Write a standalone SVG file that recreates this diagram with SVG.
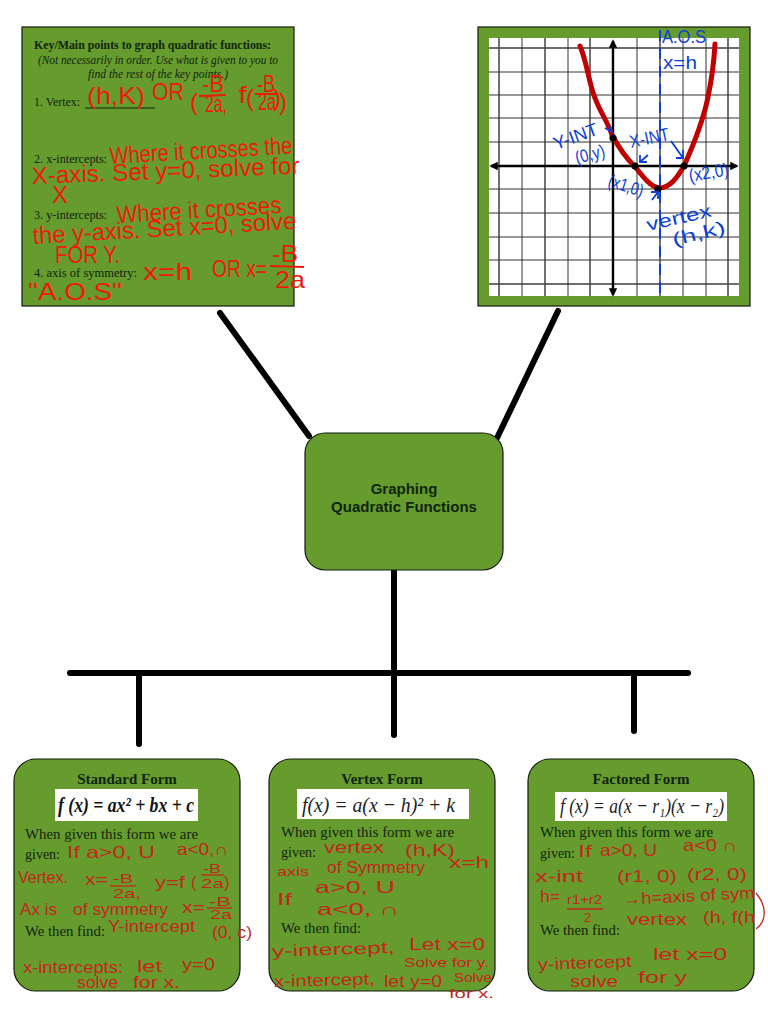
<svg xmlns="http://www.w3.org/2000/svg" width="768" height="1024" viewBox="0 0 768 1024">
<style>
.bg{fill:#669c2e;stroke:#141a0c;stroke-width:1.2}
.s{font-family:"Liberation Serif","Times New Roman",serif;fill:#10240a}
.t{font-family:"Liberation Serif","Times New Roman",serif;font-weight:bold;font-size:15px;fill:#10240a;text-anchor:middle}
.b{font-size:15px}
.k{font-size:12px}
.h{font-family:"Liberation Sans",Arial,sans-serif;fill:#ee1a0c;font-size:24px}
.r{font-family:"Liberation Sans",Arial,sans-serif;fill:#c4261a;font-size:16.5px}
.m{font-size:13px}
.u{font-family:"Liberation Sans",Arial,sans-serif;fill:#0d3fd6;font-size:18px}
.fl{stroke:#ee1a0c;stroke-width:2;fill:none}
.fr{stroke:#c4261a;stroke-width:1.3;fill:none}
.g{stroke:#333;stroke-width:1;fill:none}
.g2{stroke:#aaa;stroke-width:1.8;fill:none}
.ax{stroke:#000;stroke-width:2.4;fill:none}
.ar{stroke:#0d3fd6;stroke-width:1.8;fill:none}
.c{stroke:#000;stroke-width:6;stroke-linecap:round;fill:none}
.f{font-family:"Liberation Serif","DejaVu Serif",serif;font-size:22px;fill:#222;font-style:italic}
.fb{font-weight:bold;fill:#111}
</style>
<defs>
<marker id="ah" viewBox="0 0 10 10" refX="8" refY="5" markerWidth="3.5" markerHeight="4" orient="auto-start-reverse"><path d="M0 0L10 5L0 10z" fill="#000"/></marker>
</defs>
<rect width="768" height="1024" fill="#fff"/>

<g id="connectors">
<path class="c" d="M220 313L309 436"/>
<path class="c" d="M558 311L497 438"/>
<path class="c" d="M394 571V735"/>
<path class="c" d="M70 673H688"/>
<path class="c" d="M139 673V744"/>
<path class="c" d="M634 676V731"/>
</g>

<g id="n-key">
<rect class="bg" x="22" y="27" width="272" height="279"/>
<text class="s k" x="34" y="49" font-weight="bold" textLength="237" lengthAdjust="spacingAndGlyphs">Key/Main points to graph quadratic functions:</text>
<text class="s k" x="38" y="64" font-style="italic" textLength="240" lengthAdjust="spacingAndGlyphs">(Not necessarily in order. Use what is given to you to</text>
<text class="s k" x="88" y="78" font-style="italic" textLength="140" lengthAdjust="spacingAndGlyphs">find the rest of the key points.)</text>
<text class="s k" x="34" y="106" textLength="46" lengthAdjust="spacingAndGlyphs">1. Vertex:</text>
<path d="M85 108H155" stroke="#10240a" stroke-width="1"/>
<text class="s k" x="34" y="163" textLength="73" lengthAdjust="spacingAndGlyphs">2. x-intercepts:</text>
<text class="s k" x="34" y="219" textLength="73" lengthAdjust="spacingAndGlyphs">3. y-intercepts:</text>
<text class="s k" x="34" y="277" textLength="103" lengthAdjust="spacingAndGlyphs">4. axis of symmetry:</text>
<text class="h" x="87" y="104" font-size="34" textLength="58" lengthAdjust="spacingAndGlyphs">(h,K)</text>
<text class="h" x="152" y="100" textLength="32" lengthAdjust="spacingAndGlyphs">OR</text>
<text class="h" x="190" y="110" font-size="42">(</text>
<text class="h" x="202" y="92" font-size="20" textLength="22" lengthAdjust="spacingAndGlyphs">-B</text>
<path class="fl" d="M199 96L226 95"/>
<text class="h" x="205" y="112" font-size="17" textLength="22" lengthAdjust="spacingAndGlyphs">2a,</text>
<text class="h" x="238" y="103" textLength="9" lengthAdjust="spacingAndGlyphs">f</text>
<text class="h" x="246" y="106" font-size="34">(</text>
<text class="h" x="257" y="92" font-size="17" textLength="18" lengthAdjust="spacingAndGlyphs">-B</text>
<path class="fl" d="M255 94L278 94"/>
<text class="h" x="258" y="110" font-size="15" textLength="18" lengthAdjust="spacingAndGlyphs">2a</text>
<text class="h" x="273" y="106" font-size="34">)</text>
<text class="h" x="279" y="110" font-size="44">)</text>
<text class="h" x="110" y="164" transform="rotate(-3.3 110 164)" textLength="183" lengthAdjust="spacingAndGlyphs">Where it crosses the</text>
<text class="h" x="32" y="184" transform="rotate(-2.2 32 184)" textLength="268" lengthAdjust="spacingAndGlyphs">X-axis. Set y=0, solve for</text>
<text class="h" x="52" y="203" font-size="19">X</text>
<text class="h" x="117" y="223" transform="rotate(-3.5 117 223)" textLength="165" lengthAdjust="spacingAndGlyphs">Where it crosses</text>
<text class="h" x="33" y="244" transform="rotate(-3.3 33 244)" textLength="264" lengthAdjust="spacingAndGlyphs">the y-axis. Set x=0, solve</text>
<text class="h" x="55" y="263" font-size="19" textLength="65" lengthAdjust="spacingAndGlyphs">FOR Y.</text>
<text class="h" x="143" y="280" font-size="28" textLength="49" lengthAdjust="spacingAndGlyphs">x=h</text>
<text class="h" x="212" y="277" textLength="55" lengthAdjust="spacingAndGlyphs">OR x=</text>
<text class="h" x="272" y="262" font-size="22" textLength="26" lengthAdjust="spacingAndGlyphs">-B</text>
<path class="fl" d="M270 266L304 267"/>
<text class="h" x="275" y="288" font-size="22" textLength="30" lengthAdjust="spacingAndGlyphs">2a</text>
<text class="h" x="28" y="300" font-size="27" textLength="94" lengthAdjust="spacingAndGlyphs">"A.O.S"</text>
</g>

<g id="n-graph">
<rect class="bg" x="478" y="27" width="272" height="279"/>
<rect x="489" y="38" width="250" height="258" fill="#fff"/>
<path class="g2" d="M499 38V296M545 38V296M590 38V296M660 38V296M728 38V296M489 48H739M489 284H739"/>
<path class="g" d="M499 38V296M522 38V296M545 38V296M568 38V296M590 38V296M637 38V296M660 38V296M683 38V296M706 38V296M728 38V296M489 48H739M489 72H739M489 95H739M489 118H739M489 142H739M489 189H739M489 213H739M489 237H739M489 260H739M489 284H739"/>
<path class="ax" d="M613 41V295" marker-start="url(#ah)" marker-end="url(#ah)"/>
<path class="ax" d="M491 166H737" marker-start="url(#ah)" marker-end="url(#ah)"/>
<path d="M580 46C587 62 589 84 595 98C600 112 608 122 612 135C620 150 628 160 636 168C644 178 651 187 659 188C670 188 677 178 684 166C693 146 703 122 708 97C712 78 714 62 715 44" fill="none" stroke="#c00000" stroke-width="5" stroke-linecap="round"/>
<circle cx="613" cy="138" r="3.6"/><circle cx="635" cy="166" r="3.6"/><circle cx="658" cy="189" r="3.6"/><circle cx="684" cy="166" r="3.6"/>
<path d="M660 30V295" stroke="#0d3fd6" stroke-width="2" stroke-dasharray="11 7" fill="none"/>
<text class="u" x="662" y="43" font-size="19" textLength="44" lengthAdjust="spacingAndGlyphs">A.O.S</text>
<text class="u" x="663" y="69" font-size="22" textLength="34" lengthAdjust="spacingAndGlyphs">x=h</text>
<text class="u" x="556" y="150" font-size="20" transform="rotate(-20 556 150)" textLength="46" lengthAdjust="spacingAndGlyphs">Y-INT</text>
<text class="u" x="577" y="164" font-size="20" transform="rotate(-15 577 164)" textLength="30" lengthAdjust="spacingAndGlyphs">(0,y)</text>
<text class="u" x="631" y="148" transform="rotate(-12 631 148)" textLength="40" lengthAdjust="spacingAndGlyphs">X-INT</text>
<text class="u" x="607" y="186" font-size="19" transform="rotate(18 607 186)" textLength="36" lengthAdjust="spacingAndGlyphs">(x1,0)</text>
<text class="u" x="690" y="182" font-size="19" transform="rotate(-10 690 182)" textLength="40" lengthAdjust="spacingAndGlyphs">(x2,0)</text>
<text class="u" x="648" y="231" font-size="24" transform="rotate(-13 648 231)" textLength="66" lengthAdjust="spacingAndGlyphs">vertex</text>
<text class="u" x="674" y="246" font-size="21" transform="rotate(-14 674 246)" textLength="54" lengthAdjust="spacingAndGlyphs">(h,k)</text>
<path class="ar" d="M605 128L612 132L609 125M648 155L640 162M640 155V162H647M671 141L683 158M683 150V158H676M652 200L658 192M651 192H658V199"/>
</g>

<g id="n-center">
<rect class="bg" x="305" y="433" width="198" height="137" rx="20"/>
<text x="404" y="494" font-family="Liberation Sans,Arial,sans-serif" font-weight="bold" font-size="15" fill="#10240a" text-anchor="middle">Graphing</text>
<text x="404" y="512" font-family="Liberation Sans,Arial,sans-serif" font-weight="bold" font-size="15" fill="#10240a" text-anchor="middle">Quadratic Functions</text>
</g>

<g id="n-standard">
<rect class="bg" x="14" y="759" width="226" height="232" rx="22"/>
<text class="t" x="127" y="784">Standard Form</text>
<rect x="55" y="789" width="143" height="32" fill="#fff"/>
<text class="f fb" x="58" y="812" textLength="136" lengthAdjust="spacingAndGlyphs">f (x) = ax² + bx + c</text>
<text class="s b" x="25" y="839" textLength="173" lengthAdjust="spacingAndGlyphs">When given this form we are</text>
<text class="s b" x="25" y="859" textLength="35" lengthAdjust="spacingAndGlyphs">given:</text>
<text class="s b" x="25" y="936" textLength="80" lengthAdjust="spacingAndGlyphs">We then find:</text>
<text class="r" x="67" y="858" textLength="88" lengthAdjust="spacingAndGlyphs">If a&gt;0, U</text>
<text class="r" x="177" y="855" textLength="51" lengthAdjust="spacingAndGlyphs">a&lt;0,∩</text>
<text class="r" x="18" y="883" textLength="50" lengthAdjust="spacingAndGlyphs">Vertex.</text>
<text class="r" x="85" y="885" textLength="23" lengthAdjust="spacingAndGlyphs">x=</text>
<text class="r m" x="113" y="883" textLength="20" lengthAdjust="spacingAndGlyphs">-B</text>
<path class="fr" d="M110 886H136"/>
<text class="r m" x="113" y="898" textLength="28" lengthAdjust="spacingAndGlyphs">2a,</text>
<text class="r" x="155" y="888" textLength="30" lengthAdjust="spacingAndGlyphs">y=f</text>
<text class="r" x="191" y="888" font-size="26">(</text>
<text class="r m" x="203" y="873" textLength="18" lengthAdjust="spacingAndGlyphs">-B</text>
<path class="fr" d="M201 875H224"/>
<text class="r m" x="201" y="888" textLength="23" lengthAdjust="spacingAndGlyphs">2a</text>
<text class="r" x="224" y="888" font-size="26">)</text>
<text class="r" x="20" y="915" textLength="37" lengthAdjust="spacingAndGlyphs">Ax is</text>
<text class="r" x="73" y="915" textLength="95" lengthAdjust="spacingAndGlyphs">of symmetry</text>
<text class="r" x="182" y="913" textLength="23" lengthAdjust="spacingAndGlyphs">x=</text>
<text class="r m" x="209" y="906" textLength="22" lengthAdjust="spacingAndGlyphs">-B</text>
<path class="fr" d="M207 908H232"/>
<text class="r m" x="210" y="919" textLength="22" lengthAdjust="spacingAndGlyphs">2a</text>
<text class="r" x="108" y="932" textLength="87" lengthAdjust="spacingAndGlyphs">Y-intercept</text>
<text class="r" x="212" y="938" textLength="40" lengthAdjust="spacingAndGlyphs">(0, c)</text>
<text class="r" x="23" y="973" textLength="100" lengthAdjust="spacingAndGlyphs">x-intercepts:</text>
<text class="r" x="137" y="972" textLength="25" lengthAdjust="spacingAndGlyphs">let</text>
<text class="r" x="182" y="970" textLength="33" lengthAdjust="spacingAndGlyphs">y=0</text>
<text class="r" x="77" y="988" textLength="41" lengthAdjust="spacingAndGlyphs">solve</text>
<text class="r" x="133" y="988" textLength="47" lengthAdjust="spacingAndGlyphs">for x.</text>
</g>

<g id="n-vertex">
<rect class="bg" x="269" y="759" width="226" height="232" rx="22"/>
<text class="t" x="382" y="784">Vertex Form</text>
<rect x="297" y="789" width="172" height="30" fill="#fff"/>
<text class="f" x="302" y="812" textLength="153" lengthAdjust="spacingAndGlyphs">f(x) = a(x − h)² + k</text>
<text class="s b" x="281" y="837" textLength="173" lengthAdjust="spacingAndGlyphs">When given this form we are</text>
<text class="s b" x="281" y="857" textLength="35" lengthAdjust="spacingAndGlyphs">given:</text>
<text class="s b" x="281" y="933" textLength="80" lengthAdjust="spacingAndGlyphs">We then find:</text>
<text class="r" x="324" y="853" textLength="60" lengthAdjust="spacingAndGlyphs">vertex</text>
<text class="r" x="405" y="856" font-size="19" textLength="50" lengthAdjust="spacingAndGlyphs">(h,K)</text>
<text class="r m" x="277" y="876" textLength="32" lengthAdjust="spacingAndGlyphs">axis</text>
<text class="r" x="327" y="873" textLength="98" lengthAdjust="spacingAndGlyphs">of Symmetry</text>
<text class="r" x="449" y="868" textLength="40" lengthAdjust="spacingAndGlyphs">x=h</text>
<text class="r" x="277" y="905" textLength="15" lengthAdjust="spacingAndGlyphs">If</text>
<text class="r" x="315" y="893" textLength="80" lengthAdjust="spacingAndGlyphs">a&gt;0, U</text>
<text class="r" x="317" y="915" textLength="82" lengthAdjust="spacingAndGlyphs">a&lt;0, ∩</text>
<text class="r" x="272" y="957" transform="rotate(-2 272 957)" font-size="18" textLength="123" lengthAdjust="spacingAndGlyphs">y-intercept,</text>
<text class="r" x="409" y="950" textLength="76" lengthAdjust="spacingAndGlyphs">Let x=0</text>
<text class="r m" x="404" y="967" font-size="15" textLength="85" lengthAdjust="spacingAndGlyphs">Solve for y.</text>
<text class="r" x="274" y="987" transform="rotate(-1.5 274 987)" textLength="101" lengthAdjust="spacingAndGlyphs">x-intercept,</text>
<text class="r" x="384" y="987" textLength="58" lengthAdjust="spacingAndGlyphs">let y=0</text>
<text class="r m" x="454" y="982" textLength="38" lengthAdjust="spacingAndGlyphs">Solve</text>
<text class="r m" x="449" y="998" textLength="45" lengthAdjust="spacingAndGlyphs">for x.</text>
</g>

<g id="n-factored">
<rect class="bg" x="528" y="759" width="226" height="232" rx="22"/>
<text class="t" x="641" y="784">Factored Form</text>
<rect x="555" y="792" width="172" height="29" fill="#fff"/>
<text class="f" x="560" y="813" textLength="164" lengthAdjust="spacingAndGlyphs">f (x) = a(x − r₁)(x − r₂)</text>
<text class="s b" x="540" y="837" textLength="173" lengthAdjust="spacingAndGlyphs">When given this form we are</text>
<text class="s b" x="540" y="858" textLength="35" lengthAdjust="spacingAndGlyphs">given:</text>
<text class="s b" x="540" y="935" textLength="80" lengthAdjust="spacingAndGlyphs">We then find:</text>
<text class="r" x="578" y="857" textLength="14" lengthAdjust="spacingAndGlyphs">If</text>
<text class="r" x="600" y="856" textLength="57" lengthAdjust="spacingAndGlyphs">a&gt;0, U</text>
<text class="r" x="683" y="851" textLength="54" lengthAdjust="spacingAndGlyphs">a&lt;0 ∩</text>
<text class="r" x="535" y="882" textLength="48" lengthAdjust="spacingAndGlyphs">x-int</text>
<text class="r" x="617" y="882" font-size="20" textLength="60" lengthAdjust="spacingAndGlyphs">(r1, 0)</text>
<text class="r" x="687" y="880" font-size="20" textLength="60" lengthAdjust="spacingAndGlyphs">(r2, 0)</text>
<text class="r" x="540" y="902" textLength="20" lengthAdjust="spacingAndGlyphs">h=</text>
<text class="r m" x="567" y="904" textLength="35" lengthAdjust="spacingAndGlyphs">r1+r2</text>
<path class="fr" d="M567 909H603"/>
<text class="r m" x="584" y="922">2</text>
<text class="r" x="623" y="905" transform="rotate(-3 623 905)" font-size="17" textLength="132" lengthAdjust="spacingAndGlyphs">→h=axis of sym</text>
<text class="r" x="627" y="925" font-size="20" textLength="60" lengthAdjust="spacingAndGlyphs">vertex</text>
<text class="r" x="703" y="923" font-size="20" textLength="52" lengthAdjust="spacingAndGlyphs">(h, f(h</text>
<path class="fr" d="M756 893C766 905 768 920 756 929"/>
<text class="r" x="538" y="970" transform="rotate(-2 538 970)" textLength="94" lengthAdjust="spacingAndGlyphs">y-intercept</text>
<text class="r" x="653" y="960" textLength="74" lengthAdjust="spacingAndGlyphs">let x=0</text>
<text class="r" x="570" y="987" textLength="48" lengthAdjust="spacingAndGlyphs">solve</text>
<text class="r" x="638" y="983" textLength="49" lengthAdjust="spacingAndGlyphs">for y</text>
</g>
</svg>
